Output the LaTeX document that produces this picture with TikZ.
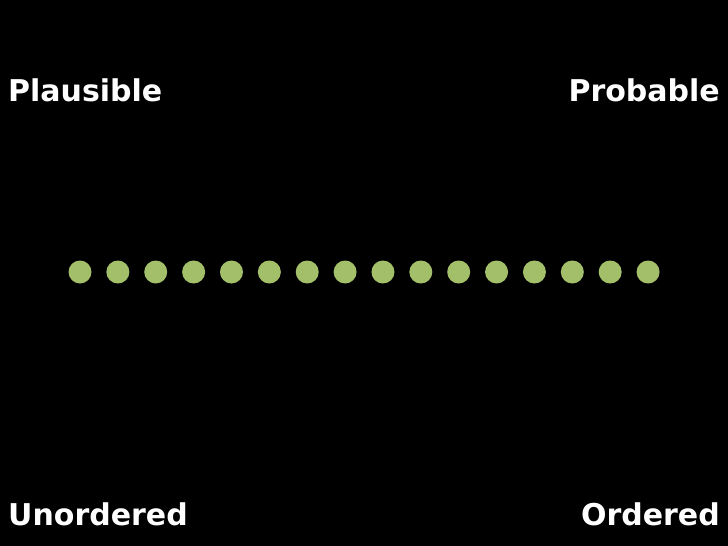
\documentclass[tikz,border=0pt]{standalone}
\usepackage{fontspec}
\setmainfont{DejaVu Sans}
\definecolor{dotg}{HTML}{A3BF6A}
\begin{document}
\begin{tikzpicture}[x=1pt,y=-1pt,
  lbl/.style={text=white,font=\bfseries\fontsize{30}{34}\selectfont,inner sep=0pt},
  dotc/.style={circle,fill=dotg,minimum size=23pt,inner sep=0pt}]
\fill[black] (0,0) rectangle (728,546);
\useasboundingbox (0,0) rectangle (728,546);
\node[lbl,anchor=base west] (pl) at (8,101) {Plausible};
\node[lbl,anchor=base east] (pr) at (720,101) {Probable};
\node[lbl,anchor=base west] (un) at (8,525) {Unordered};
\node[lbl,anchor=base east] (or) at (720,525) {Ordered};
\foreach \i in {0,...,15}{
  \node[dotc] (d\i) at ({80+\i*37.87},272) {};
}
\end{tikzpicture}
\end{document}
